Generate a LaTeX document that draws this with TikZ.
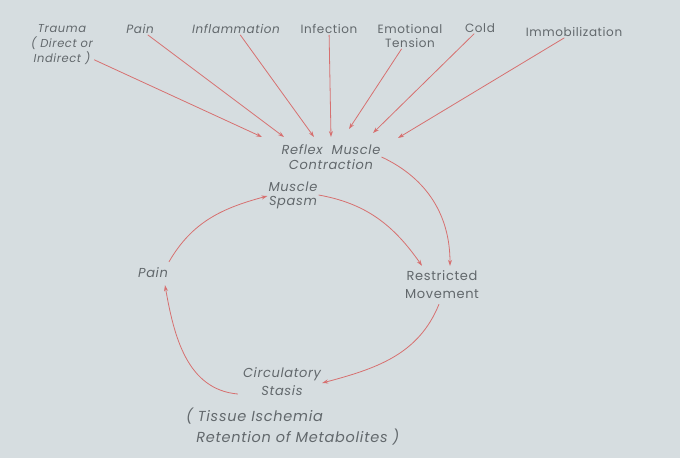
\documentclass[tikz,border=0pt]{standalone}
\usepackage{fontspec}
\setmainfont{Poppins}[LetterSpace=5]
\definecolor{slide}{RGB}{214,221,224}
\definecolor{ink}{RGB}{98,104,108}
\definecolor{arrowred}{RGB}{214,112,112}
\usetikzlibrary{arrows.meta}
\tikzstyle{word}=[text=ink,font=\fontsize{12}{14}\selectfont,align=center,inner sep=1pt]
\tikzstyle{slant}=[word,font=\fontsize{12}{14}\selectfont\itshape]
\tikzstyle{step word}=[word,font=\fontsize{13}{18}\selectfont]
\tikzstyle{step slant}=[word,font=\fontsize{13}{18}\selectfont\itshape]
\tikzstyle{link}=[draw=arrowred,line width=0.8pt,-{Stealth[length=6pt,width=4pt]}]

\begin{document}
\begin{tikzpicture}[x=1pt, y=-1pt]
    \fill[slide] (0,0) rectangle (680,458);
    % causes
    \node[slant, font=\fontsize{11.5}{15}\selectfont\itshape] (trauma) at (62,45) {Trauma\\( Direct or\\Indirect )};
    \node[slant] (pain top) at (140,29) {Pain};
    \node[slant] (inflam) at (236,29) {Inflammation};
    \node[word] (infect) at (329,29) {Infection};
    \node[word] (emotion) at (410,36) {Emotional\\Tension};
    \node[word] (cold) at (480,28) {Cold};
    \node[word] (immob) at (574,32) {Immobilization};
    % cycle
    \node[step slant, font=\fontsize{13}{15}\selectfont\itshape] (reflex) at (331,157) {Reflex\ \ Muscle\\Contraction};
    \node[step slant, font=\fontsize{13}{14}\selectfont\itshape] (spasm) at (293,195) {Muscle\\Spasm};
    \node[step slant] (pain) at (153,273) {Pain};
    \node[step word] (restrict) at (442,285) {Restricted\\Movement};
    \node[step slant] (stasis) at (282,382) {Circulatory\\Stasis};
    \node[step slant, anchor=west, align=left, font=\fontsize{14.5}{21}\selectfont\itshape] (ischemia) at (185,427) {( Tissue Ischemia\\\ \ Retention of Metabolites )};
    \foreach \src/\x/\y in {trauma/262/137, pain top/284/137, inflam/314/137,
        infect/331/137, emotion/349/129, cold/373/133, immob/398/138} {
        \coordinate (\src in) at (\x,\y);
        \draw[link] (\src) -- (\src in);
    };
    \draw[link] (reflex.east) to[out=-25, in=90] ([xshift=8pt, yshift=4pt]restrict.north);
    \draw[link] (spasm.east) to[out=-10, in=125] ([xshift=-20pt, yshift=4pt]restrict.north);
    \draw[link] ([xshift=-3pt, yshift=-4pt]restrict.south) to[out=-112, in=15] ([yshift=-1pt]stasis.east);
    \draw[link] ([xshift=-4pt, yshift=-12pt]stasis.west) to[out=175, in=-80] ([xshift=12pt, yshift=-6pt]pain.south);
    \draw[link] ([xshift=16pt, yshift=5pt]pain.north) to[out=60, in=195] ([yshift=-1pt]spasm.west);
\end{tikzpicture}
\end{document}
